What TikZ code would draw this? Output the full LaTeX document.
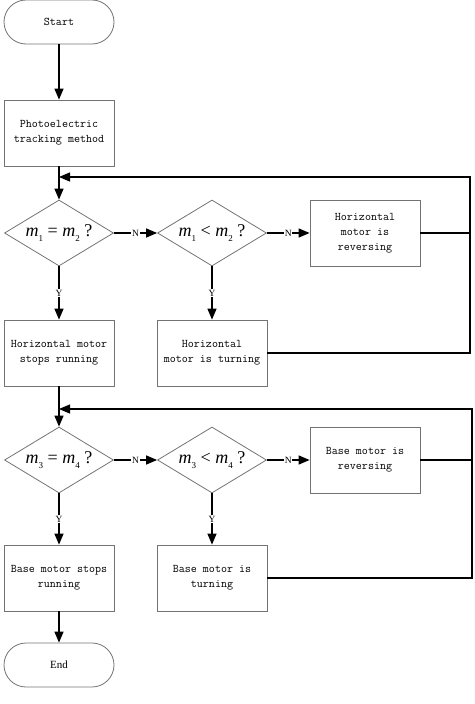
\documentclass[tikz,border=0pt]{standalone}
\usepackage{fontspec}
\newfontfamily\serifx{Liberation Serif}
\usetikzlibrary{shapes.geometric,arrows.meta}
\newcommand{\mvar}[2]{{\serifx\itshape m}\raisebox{-0.25em}{\serifx\fontsize{9}{9}\selectfont #2}}
\begin{document}
\begin{tikzpicture}[x=1pt,y=-1pt,
  boxst/.style={draw=black!55,line width=0.8pt,rectangle,minimum width=110pt,minimum height=66pt,inner sep=1pt,align=center,font=\ttfamily\fontsize{11.7}{15}\selectfont,text=black},
  termst/.style={draw=black!55,line width=0.8pt,rectangle,rounded corners=22pt,minimum width=110pt,minimum height=44pt,inner sep=1pt,align=center,text=black},
  decst/.style={draw=black!55,line width=0.8pt,diamond,aspect=1.65,minimum width=109pt,minimum height=66pt,inner sep=0pt,font=\serifx\fontsize{18}{20}\selectfont},
  conn/.style={draw=black,line width=1.3pt},
  arr/.style={conn,-{Triangle[length=11pt,width=9pt]}},
  lbl/.style={fill=white,inner sep=0.6pt,font=\serifx\fontsize{9.5}{10}\selectfont}
]
\useasboundingbox (0,0) rectangle (474,704);
\node[termst,font=\ttfamily\fontsize{11.7}{14}\selectfont] (start) at (59,22) {Start};
\node[boxst] (photo) at (59,133) {Photoelectric\\tracking method};
\coordinate (j1) at (59,177);
\node[decst] (d1) at (59,233) {\mvar{m}{1} = \mvar{m}{2} ?};
\node[decst] (d2) at (212,233) {\mvar{m}{1} < \mvar{m}{2} ?};
\node[boxst] (rev1) at (365,233) {Horizontal\\motor is\\reversing};
\node[boxst] (stop1) at (59,353) {Horizontal motor\\stops running};
\node[boxst] (turn1) at (212,353) {Horizontal\\motor is turning};
\coordinate (r1t) at (470,177);
\coordinate (r1m) at (470,233);
\coordinate (r1b) at (470,353);

\coordinate (j2) at (59,409);
\node[decst] (d3) at (59,460) {\mvar{m}{3} = \mvar{m}{4} ?};
\node[decst] (d4) at (212,460) {\mvar{m}{3} < \mvar{m}{4} ?};
\node[boxst] (rev2) at (365,460) {Base motor is\\reversing};
\node[boxst] (stop2) at (59,578) {Base motor stops\\running};
\node[boxst] (turn2) at (212,578) {Base motor is\\turning};
\coordinate (r2t) at (472,409);
\coordinate (r2m) at (472,460);
\coordinate (r2b) at (472,578);
\node[termst,font=\serifx\fontsize{11}{12}\selectfont] (end) at (59,665) {End};

\draw[arr] (start) -- (photo);
\draw[arr] (photo) -- (d1);
\draw[arr] (d1) -- node[lbl] {N} (d2);
\draw[arr] (d2) -- node[lbl] {N} (rev1);
\draw[arr] (d1) -- node[lbl] {Y} (stop1);
\draw[arr] (d2) -- node[lbl] {Y} (turn1);
\draw[conn] (rev1.east) -- (r1m);
\draw[arr] (turn1.east) -- (r1b) -- (r1t) -- (j1);

\draw[conn] (stop1) -- (j2);
\draw[arr] (j2) -- (d3);
\draw[arr] (d3) -- node[lbl] {N} (d4);
\draw[arr] (d4) -- node[lbl] {N} (rev2);
\draw[arr] (d3) -- node[lbl] {Y} (stop2);
\draw[arr] (d4) -- node[lbl] {Y} (turn2);
\draw[conn] (rev2.east) -- (r2m);
\draw[arr] (turn2.east) -- (r2b) -- (r2t) -- (j2);
\draw[arr] (stop2) -- (end);
\end{tikzpicture}
\end{document}
